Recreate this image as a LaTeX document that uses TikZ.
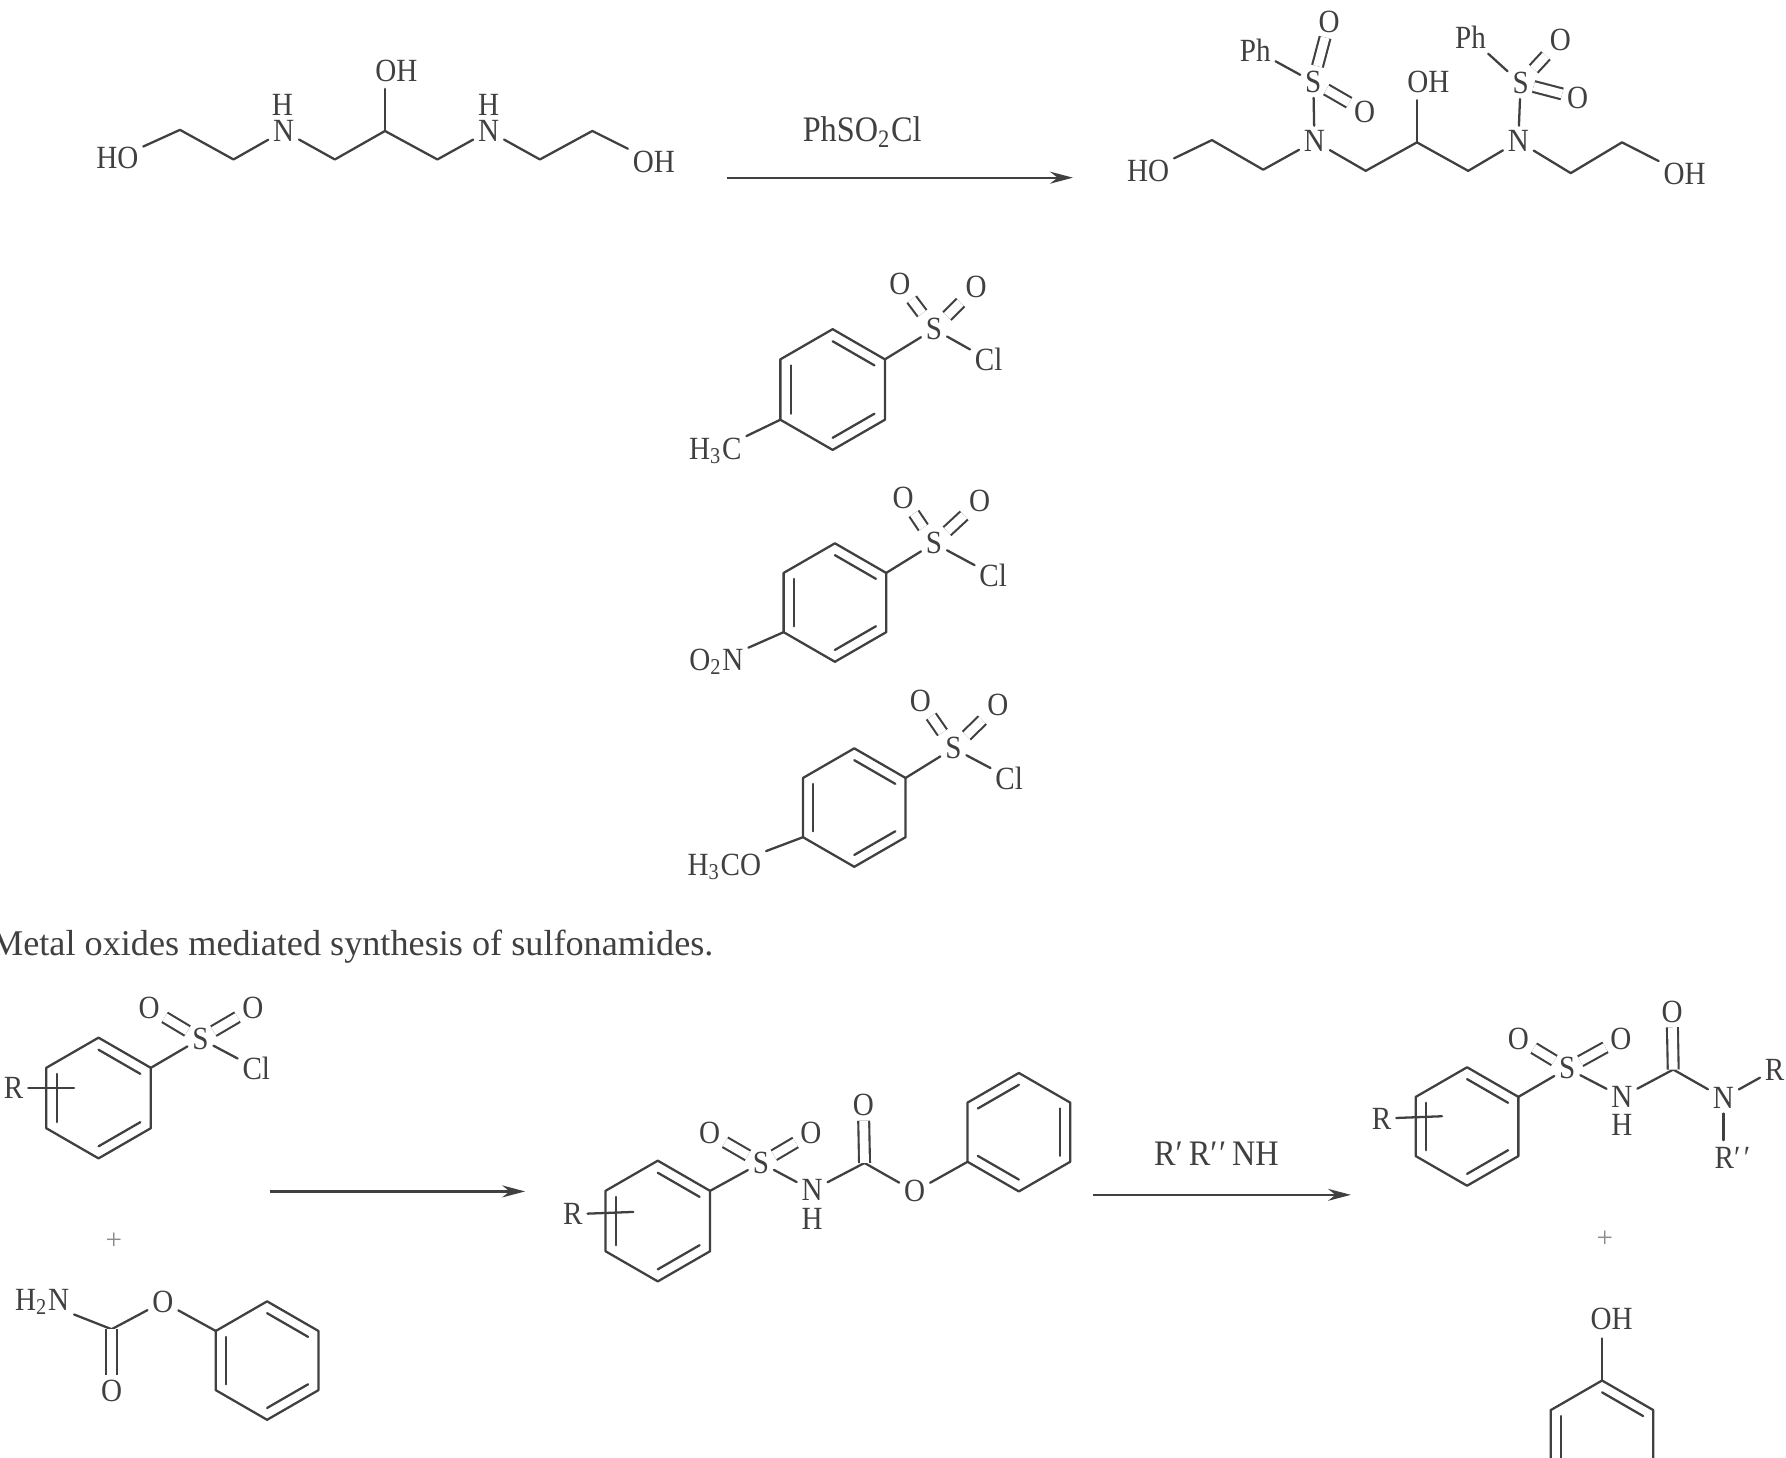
\documentclass[tikz,border=0pt]{standalone}
\usepackage{fontspec}
\setmainfont{Liberation Serif}
\newfontfamily\atomfont[FakeStretch=0.9]{Liberation Serif}
\usetikzlibrary{calc,arrows.meta}
\definecolor{ink}{gray}{0.25}
\tikzset{
  bond/.style={draw=ink,line width=0.65pt,line join=round,line cap=round},
  dbond/.style={draw=ink,line width=0.6pt,double=white,double distance=2.5pt},
  atom/.style={text=ink,font=\atomfont\fontsize{9.2}{10}\selectfont,inner sep=1.4pt,outer sep=0pt},
  caption/.style={text=ink,font=\fontsize{10.3}{12}\selectfont,inner sep=0pt},
  reagent/.style={text=ink,font=\atomfont\fontsize{10.2}{11}\selectfont,inner sep=0pt},
  plus/.style={text=black!45,font=\fontsize{8.3}{9}\selectfont,inner sep=0pt},
  rxn/.style={draw=ink,line width=0.65pt,-{Stealth[length=6.5pt,width=3.4pt]}}
}
\newcommand{\benz}[4]{%
  \coordinate (#1c) at (#2,#3);
  \coordinate (#1v1) at (#2,{#3-#4});
  \coordinate (#1v2) at ({#2+0.866*#4},{#3-0.5*#4});
  \coordinate (#1v3) at ({#2+0.866*#4},{#3+0.5*#4});
  \coordinate (#1v4) at (#2,{#3+#4});
  \coordinate (#1v5) at ({#2-0.866*#4},{#3+0.5*#4});
  \coordinate (#1v6) at ({#2-0.866*#4},{#3-0.5*#4});
  \draw[bond] (#1v1)--(#1v2)--(#1v3)--(#1v4)--(#1v5)--(#1v6)--cycle;
}
\newcommand{\inner}[3]{\draw[bond] ($(#1v#2)!0.2!(#1c)$) -- ($(#1v#3)!0.2!(#1c)$);}
\begin{document}
\begin{tikzpicture}[x=0.01139cm,y=-0.01139cm]
\useasboundingbox (0,0) rectangle (1568,1280);
\clip (0,0) rectangle (1568,1280);

% --- top reaction, starting amine
\node[atom] (aHO) at (103,139) {HO};
\coordinate (a1) at (158,114);
\coordinate (a2) at (205,140);
\node[atom] (aN1) at (249,115) {N};
\node[atom] (aH1) at (248,92) {H};
\coordinate (a3) at (294,140);
\coordinate (a4) at (338,115);
\node[atom] (aOH) at (348,62) {OH};
\coordinate (a5) at (384,140);
\node[atom] (aN2) at (429,115) {N};
\node[atom] (aH2) at (429,92) {H};
\coordinate (a6) at (474,140);
\coordinate (a7) at (520,115);
\node[atom] (aOH2) at (574,142) {OH};
\draw[bond] (aHO)--(a1)--(a2)--(aN1)--(a3)--(a4)--(a5)--(aN2)--(a6)--(a7)--(aOH2);
\draw[bond] (a4)--(338,78);

% --- first arrow
\coordinate (r1s) at (638,156);
\coordinate (r1e) at (942,156);
\draw[rxn] (r1s)--(r1e);
\node[reagent] (r1l) at (757,116) {PhSO\textsubscript{2}Cl};

% --- top reaction, product
\node[atom] (bHO) at (1008,150) {HO};
\coordinate (b1) at (1064,123);
\coordinate (b2) at (1109,149);
\node[atom] (bN1) at (1154,124) {N};
\node[atom] (bS1) at (1153,72) {S};
\node[atom] (bPh1) at (1102,44) {Ph};
\node[atom] (bO1) at (1167,19) {O};
\node[atom] (bO2) at (1198,98) {O};
\coordinate (b3) at (1199,150);
\coordinate (b4) at (1244,125);
\node[atom] (bOH) at (1254,72) {OH};
\coordinate (b5) at (1289,150);
\node[atom] (bN2) at (1333,124) {N};
\node[atom] (bS2) at (1335,73) {S};
\node[atom] (bPh2) at (1291,33) {Ph};
\node[atom] (bO3) at (1370,35) {O};
\node[atom] (bO4) at (1385,86) {O};
\coordinate (b6) at (1379,152);
\coordinate (b7) at (1424,125);
\node[atom] (bOH2) at (1479,153) {OH};
\draw[bond] (bHO)--(b1)--(b2)--(bN1)--(b3)--(b4)--(b5)--(bN2)--(b6)--(b7)--(bOH2);
\draw[bond] (b4)--(1244,88);
\draw[bond] (bS1)--(bN1);
\draw[bond] (bS2)--(bN2);
\draw[bond] (bPh1)--(bS1);
\draw[bond] (bPh2)--(bS2);
\draw[dbond] (bS1)--(bO1);
\draw[dbond] (bS1)--(bO2);
\draw[dbond] (bS2)--(bO3);
\draw[dbond] (bS2)--(bO4);

% --- tosyl chloride
\benz{A}{731}{342}{53}
\inner{A}{1}{2}\inner{A}{3}{4}\inner{A}{5}{6}
\node[atom] (AS) at (820,289) {S};
\node[atom] (AO1) at (790,249) {O};
\node[atom] (AO2) at (857,252) {O};
\node[atom] (ACl) at (868,316) {Cl};
\node[atom] (AMe) at (628,396) {H\textsubscript{3}C};
\draw[bond] (Av2)--(AS)--(ACl);
\draw[bond] (Av5)--(AMe);
\draw[dbond] (AS)--(AO1);
\draw[dbond] (AS)--(AO2);

% --- nosyl chloride
\benz{B}{733}{529}{52}
\inner{B}{1}{2}\inner{B}{3}{4}\inner{B}{5}{6}
\node[atom] (BS) at (820,477) {S};
\node[atom] (BO1) at (793,437) {O};
\node[atom] (BO2) at (860,440) {O};
\node[atom] (BCl) at (872,505) {Cl};
\node[atom] (BN) at (629,581) {O\textsubscript{2}N};
\draw[bond] (Bv2)--(BS)--(BCl);
\draw[bond] (Bv5)--(BN);
\draw[dbond] (BS)--(BO1);
\draw[dbond] (BS)--(BO2);

% --- methoxy derivative
\benz{C}{750}{709}{52}
\inner{C}{1}{2}\inner{C}{3}{4}\inner{C}{5}{6}
\node[atom] (CS) at (837,657) {S};
\node[atom] (CO1) at (808,615) {O};
\node[atom] (CO2) at (876,619) {O};
\node[atom] (CCl) at (886,683) {Cl};
\node[atom] (CMe) at (636,761) {H\textsubscript{3}CO};
\draw[bond] (Cv2)--(CS)--(CCl);
\draw[bond] (Cv5)--(CMe);
\draw[dbond] (CS)--(CO1);
\draw[dbond] (CS)--(CO2);

% --- caption
\node[caption,anchor=east] (cap) at (627,831) {Metal oxides mediated synthesis of sulfonamides.};

% --- lower left: sulfonyl chloride
\benz{D}{86.5}{964}{53}
\inner{D}{1}{2}\inner{D}{3}{4}\inner{D}{5}{6}
\node[atom] (DS) at (176,912) {S};
\node[atom] (DO1) at (131,885) {O};
\node[atom] (DO2) at (222,885) {O};
\node[atom] (DCl) at (225,938) {Cl};
\node[atom] (DR) at (12,955) {R};
\coordinate (DRe) at (65,955);
\draw[bond] (Dv2)--(DS)--(DCl);
\draw[bond] (DR)--(DRe);
\draw[dbond] (DS)--(DO1);
\draw[dbond] (DS)--(DO2);
\node[plus] (plus1) at (100,1090) {+};

% --- lower left: phenyl carbamate
\benz{E}{234.5}{1194.5}{52}
\inner{E}{1}{2}\inner{E}{3}{4}\inner{E}{5}{6}
\node[atom] (EN) at (37,1143) {H\textsubscript{2}N};
\coordinate (EC) at (98,1167);
\node[atom] (EO) at (143,1143) {O};
\node[atom] (EO2) at (98,1221) {O};
\draw[bond] (EN)--(EC)--(EO)--(Ev6);
\draw[dbond] (EC)--(EO2);

% --- second arrow
\coordinate (r2s) at (237,1046);
\coordinate (r2e) at (461,1046);
\draw[rxn] (r2s)--(r2e);

% --- middle intermediate
\benz{F}{577.5}{1072}{53}
\inner{F}{1}{2}\inner{F}{3}{4}\inner{F}{5}{6}
\node[atom] (FR) at (503,1066) {R};
\coordinate (FRe) at (556,1064);
\node[atom] (FS) at (668,1021) {S};
\node[atom] (FO1) at (623,995) {O};
\node[atom] (FO2) at (712,995) {O};
\node[atom] (FN) at (713,1045) {N};
\node[atom] (FH) at (713,1070) {H};
\coordinate (FC) at (759,1021);
\node[atom] (FO3) at (758,970) {O};
\node[atom] (FO4) at (803,1046) {O};
\benz{G}{894.5}{994}{52}
\inner{G}{6}{1}\inner{G}{2}{3}\inner{G}{4}{5}
\draw[bond] (Fv2)--(FS)--(FN)--(FC)--(FO4)--(Gv5);
\draw[bond] (FR)--(FRe);
\draw[dbond] (FS)--(FO1);
\draw[dbond] (FS)--(FO2);
\draw[dbond] (FC)--(FO3);

% --- third arrow
\coordinate (r3s) at (960,1049);
\coordinate (r3e) at (1186,1049);
\draw[rxn] (r3s)--(r3e);
\node[reagent] (r3l) at (1068,1013) {R′\,R′\kern0.5pt′\,NH};

% --- right product
\benz{H}{1288}{989}{52}
\inner{H}{1}{2}\inner{H}{3}{4}\inner{H}{5}{6}
\node[atom] (HR) at (1213,982) {R};
\coordinate (HRe) at (1266,980);
\node[atom] (HS) at (1376,938) {S};
\node[atom] (HO1) at (1333,912) {O};
\node[atom] (HO2) at (1423,912) {O};
\node[atom] (HN) at (1424,963) {N};
\node[atom] (HH) at (1424,988) {H};
\coordinate (HC) at (1469,939);
\node[atom] (HO3) at (1468,888) {O};
\node[atom] (HN2) at (1513,964) {N};
\node[atom] (HR1) at (1558,939) {R};
\node[atom,anchor=west] (HR2) at (1501,1017) {R′\kern1pt′};
\draw[bond] (Hv2)--(HS)--(HN)--(HC)--(HN2)--(HR1);
\draw[bond] (HN2)--(1513,1001);
\draw[bond] (HR)--(HRe);
\draw[dbond] (HS)--(HO1);
\draw[dbond] (HS)--(HO2);
\draw[dbond] (HC)--(HO3);
\node[plus] (plus2) at (1409,1088) {+};

% --- phenol, cut by the page edge
\benz{J}{1406.5}{1264}{52}
\inner{J}{1}{2}\inner{J}{3}{4}\inner{J}{5}{6}
\node[atom] (JOH) at (1415,1158) {OH};
\draw[bond] (Jv1)--(1406.5,1175);
\end{tikzpicture}
\end{document}
